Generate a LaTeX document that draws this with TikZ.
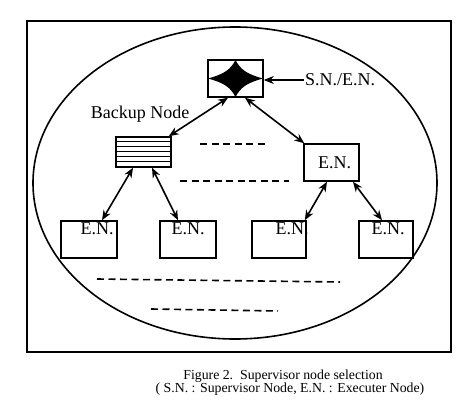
\documentclass[tikz,border=0pt]{standalone}
\usepackage{fontspec}
\setmainfont{Liberation Serif}
\usepackage{tikz}
\usetikzlibrary{arrows.meta, positioning}
\tikzstyle{link} = [line width=1.6pt,{Stealth[length=10pt,width=8pt]}-{Stealth[length=10pt,width=8pt]}]
\tikzstyle{arrow} = [line width=1.6pt,-{Stealth[length=10pt,width=8pt]}]
\tikzstyle{box} = [draw, line width=1.5pt, minimum width=55pt, minimum height=37pt, inner sep=0pt, font=\fontsize{18}{20}\selectfont]
\tikzstyle{entxt} = [anchor=north east, inner sep=0pt, yshift=-2pt, font=\fontsize{18}{20}\selectfont]
\tikzstyle{leaf} = [box, label={[entxt, xshift=#1]north east:E.N.}]
\tikzstyle{lbl} = [inner sep=1pt, font=\fontsize{18}{20}\selectfont]
\tikzstyle{gap} = [line width=1.6pt, dash pattern=on 7pt off 4.5pt]
\tikzstyle{captxt} = [inner sep=0pt, font=\fontsize{13.8}{14}\selectfont]

\begin{document}
\begin{tikzpicture}[x=1pt, y=-1pt]
        \useasboundingbox (0,0) rectangle (474,417);

        % Frame and cluster
        \draw[line width=2pt] (27,21) rectangle (451,352);
        \draw[line width=1.6pt] (235,183) ellipse [x radius=202, y radius=156];

        % Nodes
        \node[box] (sn) at (235.5,78.5) {};
        \node[box, minimum height=30pt] (backup) at (143.5,152) {};
        \node[box] (en) at (331.5,162.5) {\hspace{6pt}E.N.};
        \node[leaf=-4pt, minimum width=56pt] (l1) at (89,239.5) {};
        \node[leaf=-12pt, minimum width=56pt] (l2) at (188,239.5) {};
        \node[leaf=2pt, minimum width=54pt] (l3) at (279,239.5) {};
        \node[leaf=-9pt, minimum width=54pt] (l4) at (386,239.5) {};

        % Star of the supervisor node
        \fill[shift={(sn.center)}] (-27.5,0) .. controls (-11,-4.5) and (-5,-9) .. (0,-18.5)
            .. controls (5,-9) and (11,-4.5) .. (27.5,0)
            .. controls (11,4.5) and (5,9) .. (0,18.5)
            .. controls (-5,9) and (-11,4.5) .. cycle;

        % Stripes of the backup node
        \foreach \k in {1,...,5}
            \draw[line width=1.1pt] ([yshift=-\k*5pt]backup.north west) -- ([yshift=-\k*5pt]backup.north east);

        % Labels
        \node[lbl, anchor=west] (snlbl) at (304,80) {S.N./E.N.};
        \node[lbl] (bklbl) at (140,114) {Backup Node};
        \draw[arrow] (snlbl.west) -- (sn.east |- snlbl.west);

        % Links
        \draw[link] ([xshift=-7.5pt]sn.south) -- ([xshift=-3pt]backup.north east);
        \draw[link] ([xshift=9.5pt]sn.south) -- ([xshift=1pt]en.north west);
        \draw[link] ([xshift=-10.5pt]backup.south) -- ([xshift=13pt]l1.north);
        \draw[link] ([xshift=8.5pt]backup.south) -- ([xshift=-10pt]l2.north);
        \draw[link] ([xshift=-4.5pt]en.south) -- ([xshift=-2pt]l3.north east);
        \draw[link] ([xshift=21.5pt]en.south) -- ([xshift=-4pt]l4.north);

        % Dashed lines
        \draw[gap] (200,144) -- (265,144);
        \draw[gap] (180,181) -- (289,181);
        \draw[gap] (97,279) -- (340,282);
        \draw[gap] (151,309) -- (278,311);

        % Caption
        \node[captxt] (cap1) at (283,376.5) {Figure 2.\ \ Supervisor node selection};
        \node[captxt] (cap2) at (290,389.5) {( S.N. : Supervisor Node, E.N. : Executer Node)};
    \end{tikzpicture}
\end{document}
